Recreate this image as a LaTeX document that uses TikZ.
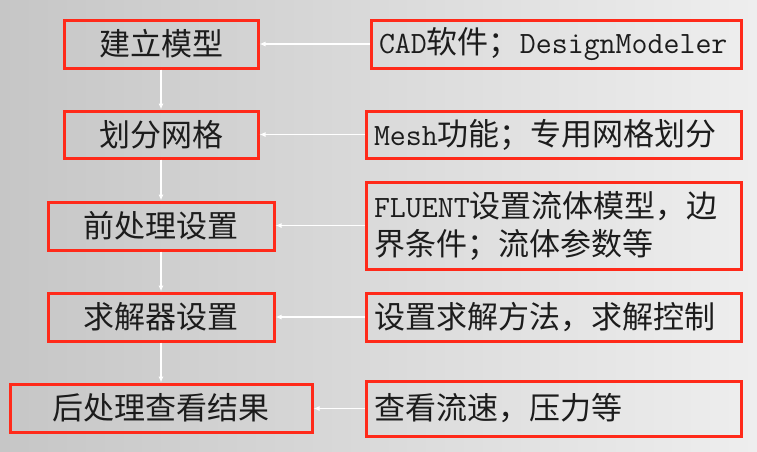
\documentclass[tikz,border=0pt]{standalone}
\usepackage{fontspec}
\setmainfont{Noto Sans CJK SC}
\usetikzlibrary{arrows.meta}
\definecolor{boxred}{HTML}{FF2A1A}
\definecolor{bgleft}{HTML}{C6C6C6}
\definecolor{bgright}{HTML}{EEEEEE}
\definecolor{textgray}{HTML}{1C1C1C}
\tikzset{
  stepbox/.style={draw=boxred, line width=3pt, minimum height=48pt, inner sep=0pt,
    text=textgray, font=\fontsize{31}{38}\selectfont},
  notebox/.style={stepbox, text width=359pt, inner xsep=8pt, align=left},
  link/.style={draw=white, line width=1.1pt, -{Latex[length=6pt,width=5pt]}}
}
\begin{document}
\begin{tikzpicture}[x=1pt,y=-1pt]
   \shade[left color=bgleft, right color=bgright] (0,0) rectangle (757,451);
   \useasboundingbox (0,0) rectangle (757,451);
   \node[stepbox, minimum width=194pt] (l1) at (161,44) {建立模型};
   \node[stepbox, minimum width=194pt, minimum height=47pt] (l2) at (161,134.5) {划分网格};
   \node[stepbox, minimum width=226pt] (l3) at (161,226) {前处理设置};
   \node[stepbox, minimum width=226pt] (l4) at (161,317) {求解器设置};
   \node[stepbox, minimum width=302pt] (l5) at (161,408) {后处理查看结果};
   \node[notebox, text width=354pt] (r1) at (556,44) {{\ttfamily CAD}软件；{\ttfamily DesignModeler}};
   \node[notebox, minimum height=47pt] (r2) at (553.5,134.5) {{\ttfamily Mesh}功能；专用网格划分};
   \node[notebox, minimum height=87pt] (r3) at (553.5,225.5) {{\ttfamily FLUENT}设置流体模型，边\\界条件；流体参数等};
   \node[notebox] (r4) at (553.5,317) {设置求解方法，求解控制};
   \node[notebox, minimum height=55pt] (r5) at (553.5,408.5) {查看流速，压力等};
   \draw[link] (l1) -- (l2);
   \draw[link] (l2) -- (l3);
   \draw[link] (l3) -- (l4);
   \draw[link] (l4) -- (l5);
   \draw[link] (r1.west) -- (l1.east);
   \draw[link] (r2.west) -- (l2.east);
   \draw[link] (r3.west) -- (r3.west -| l3.east);
   \draw[link] (r4.west) -- (l4.east);
   \draw[link] (r5.west) -- (r5.west -| l5.east);
\end{tikzpicture}
\end{document}
